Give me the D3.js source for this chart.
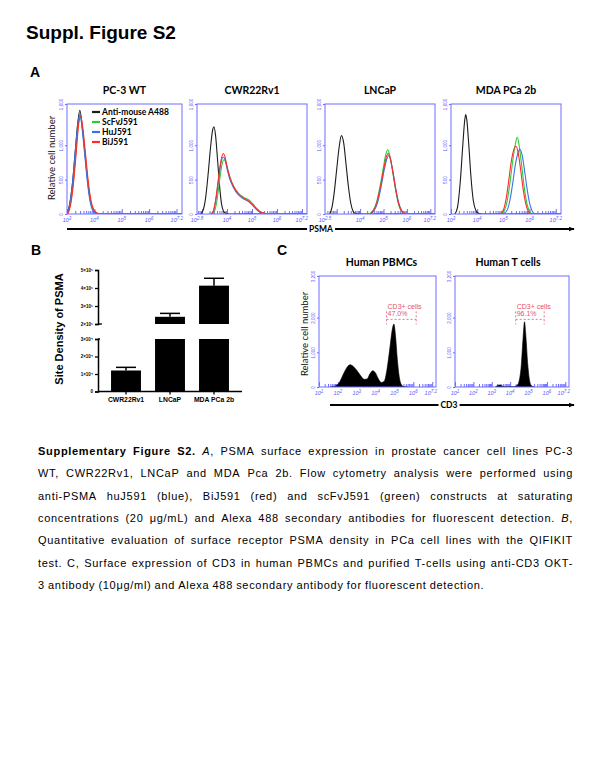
<!DOCTYPE html>
<html>
<head>
<meta charset="utf-8">
<script src="https://cdn.jsdelivr.net/npm/d3@7"></script>
<style>
  body { margin: 0; background: #fff; }
  svg { display: block; }
</style>
</head>
<body>
<div id="chart"></div>
<script>
// ---------------- data ----------------
// Panel A: flow cytometry histograms, [log10 fluorescence, cell count]
var histTitles = ["PC-3 WT", "CWR22Rv1", "LNCaP", "MDA PCa 2b"];
var histXMin = [3, 2.8, 2.5, 3];
var legendLabels = ["Anti-mouse A488", "ScFvJ591", "HuJ591", "BiJ591"];

var pc3Black = [[3.0,0],[3.1,150],[3.2,450],[3.3,900],[3.4,1350],[3.47,1510],[3.55,1300],[3.65,900],[3.75,500],[3.85,200],[3.95,60],[4.05,15],[4.2,0],[7.2,0]];
var pc3Green = [[3.02,0],[3.12,140],[3.22,430],[3.32,880],[3.41,1300],[3.48,1440],[3.56,1260],[3.66,880],[3.76,480],[3.86,190],[3.96,55],[4.06,12],[4.2,0],[7.2,0]];
var pc3Blue = [[3.0,0],[3.1,140],[3.2,440],[3.3,900],[3.4,1320],[3.47,1450],[3.55,1250],[3.65,850],[3.75,450],[3.85,170],[3.95,45],[4.05,10],[4.2,0],[7.2,0]];
var pc3Red = [[3.03,0],[3.13,130],[3.23,420],[3.33,860],[3.42,1280],[3.49,1430],[3.57,1280],[3.67,900],[3.77,500],[3.87,210],[3.97,70],[4.08,20],[4.25,0],[7.2,0]];

var cwrBlack = [[2.95,0],[3.05,60],[3.15,250],[3.25,600],[3.35,1000],[3.43,1230],[3.48,1270],[3.54,1150],[3.62,800],[3.7,420],[3.78,150],[3.86,40],[3.95,10],[4.1,0],[7.2,0]];
var cwrGreen = [[3.4,0],[3.5,40],[3.6,200],[3.7,480],[3.8,720],[3.88,790],[3.95,760],[4.03,650],[4.13,520],[4.28,390],[4.48,290],[4.68,240],[4.88,205],[5.03,150],[5.18,85],[5.33,35],[5.52,10],[5.7,0],[7.2,0]];
var cwrBlue = [[3.35,0],[3.45,40],[3.55,200],[3.65,470],[3.75,730],[3.85,830],[3.92,790],[4.0,660],[4.1,520],[4.25,390],[4.45,280],[4.65,220],[4.85,185],[5.0,135],[5.15,75],[5.3,30],[5.5,8],[5.7,0],[7.2,0]];
var cwrRed = [[3.35,0],[3.45,40],[3.55,210],[3.65,490],[3.75,760],[3.85,880],[3.92,830],[4.0,690],[4.1,550],[4.25,410],[4.45,300],[4.65,235],[4.85,195],[5.0,145],[5.15,85],[5.3,38],[5.5,12],[5.7,0],[7.2,0]];

var lncBlack = [[2.7,0],[2.8,100],[2.9,330],[3.0,650],[3.1,960],[3.2,1140],[3.3,1030],[3.4,720],[3.5,400],[3.6,160],[3.7,40],[3.8,5],[3.95,0],[7.2,0]];
var lncGreen = [[4.4,0],[4.55,50],[4.7,170],[4.85,400],[5.0,690],[5.1,870],[5.18,935],[5.27,850],[5.37,660],[5.5,380],[5.62,170],[5.75,50],[5.9,10],[6.05,0],[7.2,0]];
var lncBlue = [[4.45,0],[4.6,50],[4.75,170],[4.9,400],[5.04,660],[5.14,800],[5.22,850],[5.3,790],[5.4,620],[5.52,370],[5.65,160],[5.78,45],[5.92,8],[6.05,0],[7.2,0]];
var lncRed = [[4.42,0],[4.57,50],[4.72,170],[4.87,400],[5.02,670],[5.12,830],[5.2,880],[5.29,810],[5.39,630],[5.52,370],[5.64,160],[5.77,45],[5.92,8],[6.05,0],[7.2,0]];

var mdaBlack = [[3.15,0],[3.25,100],[3.35,450],[3.45,1000],[3.52,1350],[3.56,1445],[3.6,1380],[3.68,1000],[3.76,550],[3.85,200],[3.95,50],[4.05,10],[4.2,0],[7.2,0]];
var mdaGreen = [[4.9,0],[5.05,60],[5.15,200],[5.25,450],[5.35,750],[5.45,1000],[5.53,1120],[5.6,1000],[5.7,700],[5.8,380],[5.9,150],[6.0,40],[6.1,0],[7.2,0]];
var mdaBlue = [[5.0,0],[5.15,60],[5.25,200],[5.35,430],[5.45,700],[5.55,880],[5.63,940],[5.72,850],[5.82,600],[5.92,330],[6.02,130],[6.12,30],[6.22,0],[7.2,0]];
var mdaRed = [[4.85,0],[5.0,60],[5.1,210],[5.2,470],[5.3,760],[5.4,940],[5.48,985],[5.56,900],[5.66,640],[5.76,350],[5.86,140],[5.96,35],[6.06,0],[7.2,0]];

var histYTicks = [0, 500, 1000, 1600];

// Panel B: QIFIKIT site density
var siteCells = ["CWR22Rv1", "LNCaP", "MDA PCa 2b"];
var siteMean = [12000, 240000, 413000];
var siteErr = [1800, 19000, 41000];
var lowTicks = [0, 10000, 20000, 30000];
var highTicks = [200000, 300000, 400000, 500000];

// Panel C: CD3 histograms
var cd3Titles = ["Human PBMCs", "Human T cells"];
var pbmcCounts = [[1.6,0],[1.9,30],[2.1,150],[2.3,380],[2.5,580],[2.65,640],[2.8,600],[3.0,480],[3.2,330],[3.4,220],[3.55,230],[3.7,380],[3.85,470],[4.0,400],[4.15,230],[4.3,130],[4.45,160],[4.6,500],[4.75,1100],[4.88,1650],[4.97,1813],[5.05,1500],[5.15,800],[5.25,300],[5.35,80],[5.5,10],[5.7,0]];
var tcellCounts = [[3.2,0],[3.35,50],[3.45,60],[3.6,20],[3.8,5],[4.2,10],[4.4,60],[4.5,200],[4.6,600],[4.7,1400],[4.78,1880],[4.85,1500],[4.95,700],[5.05,200],[5.15,40],[5.3,0]];
var cd3Gates = [[4.58, 6.15], [4.3, 5.85]];
var cd3Percent = ["47.0%", "96.1%"];
var cd3YTicks = [0, 1000, 2000, 3200];

// caption
var captionLines = [
  "Supplementary Figure S2. _A_, PSMA surface expression in prostate cancer cell lines PC-3",
  "WT, CWR22Rv1, LNCaP and MDA Pca 2b. Flow cytometry analysis were performed using",
  "anti-PSMA huJ591 (blue), BiJ591 (red) and scFvJ591 (green) constructs at saturating",
  "concentrations (20 \u03bcg/mL) and Alexa 488 secondary antibodies for fluorescent detection. _B_,",
  "Quantitative evaluation of surface receptor PSMA density in PCa cell lines with the QIFIKIT",
  "test. C, Surface expression of CD3 in human PBMCs and purified T-cells using anti-CD3 OKT-",
  "3 antibody (10\u03bcg/ml) and Alexa 488 secondary antibody for fluorescent detection."
];

// ---------------- setup ----------------
var svgWidth = 600;
var svgHeight = 776;
var xMax = 7.2;
var boxColor = "#6e6eff";
var tickTextColor = "#5c5cff";
var colControl = "#1c1c1c", colScfv = "#2bcc35", colHuj = "#4070e8", colBij = "#ff2b2b";
var gateColor = "#e8506e";
var calibri = "Lato, 'Open Sans', sans-serif";
var arial = "'Liberation Sans', Arial, sans-serif";

var svg = d3.select("#chart").append("svg")
  .attr("width", svgWidth).attr("height", svgHeight);

svg.append("defs").append("marker")
  .attr("id", "arrow").attr("viewBox", "0 0 8 6")
  .attr("refX", 7).attr("refY", 3)
  .attr("markerWidth", 6).attr("markerHeight", 5)
  .attr("markerUnits", "userSpaceOnUse")
  .attr("orient", "auto")
  .append("path").attr("d", "M0,0 L8,3 L0,6 Z").attr("fill", "#000");

svg.append("text").attr("x", 26).attr("y", 39)
  .style("font", "bold 19px " + arial).text("Suppl. Figure S2");

[["A", 30, 77], ["B", 31, 255], ["C", 277, 255]].forEach(function(p) {
  svg.append("text").attr("x", p[1]).attr("y", p[2])
    .style("font", "bold 14px " + arial).text(p[0]);
});

// flow histogram with FlowJo-like axes
function histPanel(o) {
  var x = d3.scaleLinear().domain([o.xmin, xMax]).range([o.left, o.left + o.width]);
  var y = d3.scaleLinear().domain([0, o.ymax]).range([o.bottom, o.top]);
  var g = svg.append("g");

  var minor = [], major = [];
  for (var n = Math.floor(o.xmin); n <= 7; n++) {
    for (var k = 1; k < 10; k++) {
      var v = n + Math.log10(k);
      if (v < o.xmin - 1e-9 || v > xMax) continue;
      (k === 1 ? major : minor).push(v);
    }
  }
  var xa = g.append("g").attr("transform", `translate(0,${o.bottom})`)
    .call(d3.axisBottom(x).tickValues(minor).tickSize(-3).tickFormat(""));
  var xb = g.append("g").attr("transform", `translate(0,${o.bottom})`)
    .call(d3.axisBottom(x).tickValues(major).tickSize(-5).tickFormat(""));
  var ya = g.append("g").attr("transform", `translate(${o.left},0)`)
    .call(d3.axisLeft(y).tickValues(o.yticks).tickSize(2).tickFormat(d3.format(",")));
  [xa, xb, ya].forEach(function(a) {
    a.select(".domain").remove();
    a.selectAll("line").attr("stroke", boxColor);
  });
  ya.selectAll("text")
    .attr("transform", "rotate(-90)")
    .attr("x", 0).attr("y", -4).attr("dy", 0)
    .style("text-anchor", "middle")
    .style("font", "4.5px " + arial).attr("fill", tickTextColor);

  // decade labels 10^n: first value, whole decades, last value
  var labs = [o.xmin].concat(major.filter(d => d - o.xmin > 0.6 && d < 7));
  labs.push(xMax);
  var lt = g.selectAll(".xl").data(labs).enter().append("text")
    .attr("x", d => d === xMax ? x(d) + 1 : x(d)).attr("y", o.bottom + 8)
    .attr("text-anchor", d => d === xMax ? "end" : "middle")
    .style("font", "italic 5.5px " + arial).attr("fill", tickTextColor);
  lt.append("tspan").text("10");
  lt.append("tspan").attr("dy", -2).style("font-size", "4.5px")
    .text(d => Number.isInteger(d) ? d : d.toFixed(1));

  var clipId = "clip" + Math.round(o.left);
  svg.select("defs").append("clipPath").attr("id", clipId)
    .append("rect").attr("x", o.left).attr("y", o.top - 2)
    .attr("width", o.width).attr("height", o.bottom - o.top + 2);

  var line = d3.line().x(d => x(d[0])).y(d => y(d[1])).curve(d3.curveMonotoneX);
  var area = d3.area().x(d => x(d[0])).y0(y(0)).y1(d => y(d[1])).curve(d3.curveMonotoneX);
  var cg = g.append("g").attr("clip-path", `url(#${clipId})`);
  o.series.forEach(function(s) {
    if (s.fill) {
      cg.append("path").attr("d", area(s.data)).attr("fill", s.color).attr("stroke", s.color).attr("stroke-width", 0.6);
    } else {
      cg.append("path").attr("d", line(s.data)).attr("fill", "none")
        .attr("stroke", s.color).attr("stroke-width", 1.1);
    }
  });

  g.append("rect").attr("x", o.left).attr("y", o.top)
    .attr("width", o.width).attr("height", o.bottom - o.top)
    .attr("fill", "none").attr("stroke", boxColor).attr("stroke-width", 1);

  g.append("text").attr("x", o.left + o.width / 2 + (o.titleShift || 0)).attr("y", o.top - 10)
    .attr("text-anchor", "middle")
    .style("font", "bold 10.5px " + calibri).text(o.title);

  return {x: x, y: y, g: g};
}

// ---------------- panel A ----------------
var histLeft = [67, 197, 325, 451];
var histWidth = [115, 110, 110, 110];
var histSeries = [
  [pc3Black, pc3Green, pc3Blue, pc3Red],
  [cwrBlack, cwrGreen, cwrBlue, cwrRed],
  [lncBlack, lncGreen, lncBlue, lncRed],
  [mdaBlack, mdaGreen, mdaBlue, mdaRed]
];
var seriesColors = [colControl, colScfv, colHuj, colBij];

histTitles.forEach(function(t, i) {
  histPanel({
    left: histLeft[i], width: histWidth[i], top: 104, bottom: 214,
    xmin: histXMin[i], ymax: 1600, yticks: histYTicks, title: t,
    series: histSeries[i].map((d, j) => ({data: d, color: seriesColors[j]}))
  });
});

// legend
var legend = svg.append("g").attr("transform", "translate(92,112)");
legendLabels.forEach(function(l, i) {
  var row = legend.append("g").attr("transform", `translate(0,${i * 10})`);
  row.append("line").attr("x1", 0).attr("x2", 8).attr("y1", 0).attr("y2", 0)
    .attr("stroke", seriesColors[i]).attr("stroke-width", 2.2);
  row.append("text").attr("x", 10).attr("y", 3)
    .style("font", "bold 8.5px " + calibri).text(l);
});

svg.append("text").attr("transform", "translate(55,158) rotate(-90)")
  .attr("text-anchor", "middle").style("font", "9.5px " + calibri).attr("fill", "#111").text("Relative cell number");

function axisArrow(x1, x2, yy, label, cx) {
  svg.append("line").attr("x1", x1).attr("x2", x2).attr("y1", yy).attr("y2", yy)
    .attr("stroke", "#000").attr("stroke-width", 1.8).attr("marker-end", "url(#arrow)");
  var t = svg.append("text").attr("x", cx).attr("y", yy + 3)
    .attr("text-anchor", "middle").style("font", "bold 8.5px " + calibri).text(label);
  var bb = t.node().getBBox();
  svg.insert("rect", function() { return t.node(); })
    .attr("x", bb.x - 2).attr("y", yy - 3).attr("width", bb.width + 4).attr("height", 6)
    .attr("fill", "#fff");
}
axisArrow(67, 574, 229, "PSMA", 321);

// ---------------- panel B ----------------
var bLeft = 98;
var xB = d3.scaleBand().domain(siteCells).range([104, 236]).paddingInner(0.32).paddingOuter(0.16);
var yLow = d3.scaleLinear().domain([0, 30000]).range([391.5, 339]);
var yHigh = d3.scaleLinear().domain([200000, 500000]).range([324, 270]);

var bg = svg.append("g");
bg.selectAll(".barLow").data(siteMean).enter().append("rect")
  .attr("x", (d, i) => xB(siteCells[i])).attr("width", xB.bandwidth())
  .attr("y", d => yLow(Math.min(d, 30000)))
  .attr("height", d => yLow(0) - yLow(Math.min(d, 30000)))
  .attr("fill", "#000");
bg.selectAll(".barHigh").data(siteMean.filter(d => d > 200000)).enter().append("rect")
  .attr("x", d => xB(siteCells[siteMean.indexOf(d)])).attr("width", xB.bandwidth())
  .attr("y", d => yHigh(d))
  .attr("height", d => yHigh(200000) - yHigh(d))
  .attr("fill", "#000");
siteMean.forEach(function(m, i) {
  var ys = m > 200000 ? yHigh : yLow;
  var cx = xB(siteCells[i]) + xB.bandwidth() / 2;
  bg.append("line").attr("x1", cx).attr("x2", cx).attr("y1", ys(m)).attr("y2", ys(m + siteErr[i]))
    .attr("stroke", "#000").attr("stroke-width", 1.5);
  bg.append("line").attr("x1", cx - 10).attr("x2", cx + 10).attr("y1", ys(m + siteErr[i])).attr("y2", ys(m + siteErr[i]))
    .attr("stroke", "#000").attr("stroke-width", 1.5);
});

var supDigits = {"4": "\u2074", "5": "\u2075"};
var aLow = bg.append("g").attr("transform", `translate(${bLeft},0)`)
  .call(d3.axisLeft(yLow).tickValues(lowTicks).tickSize(3).tickPadding(2)
    .tickFormat(d => d === 0 ? "0" : (d / 10000) + "\u00d710" + supDigits["4"]));
var aHigh = bg.append("g").attr("transform", `translate(${bLeft},0)`)
  .call(d3.axisLeft(yHigh).tickValues(highTicks).tickSize(3).tickPadding(2)
    .tickFormat(d => (d / 100000) + "\u00d710" + supDigits["5"]));
[aLow, aHigh].forEach(function(a) {
  a.select(".domain").attr("stroke", "#000").attr("stroke-width", 1.5);
  a.selectAll("line").attr("stroke", "#000").attr("stroke-width", 1.3);
  a.selectAll("text").style("font", "bold 4.5px " + arial);
});
// break marks
bg.append("line").attr("x1", bLeft).attr("x2", bLeft + 4).attr("y1", yHigh(200000)).attr("y2", yHigh(200000))
  .attr("stroke", "#000").attr("stroke-width", 1.3);
bg.append("line").attr("x1", bLeft).attr("x2", bLeft + 2).attr("y1", yLow(30000)).attr("y2", yLow(30000))
  .attr("stroke", "#000").attr("stroke-width", 1.3);

var xAxisB = bg.append("g").attr("transform", `translate(0,${yLow(0)})`)
  .call(d3.axisBottom(xB).tickSize(3).tickPadding(3));
xAxisB.select(".domain").attr("d", `M${bLeft},0H242`).attr("stroke", "#000").attr("stroke-width", 1.5);
xAxisB.selectAll("line").attr("stroke", "#000").attr("stroke-width", 1.3);
xAxisB.selectAll("text").style("font", "bold 6.8px " + arial);

svg.append("text").attr("transform", "translate(63,329) rotate(-90)")
  .attr("text-anchor", "middle").style("font", "bold 11px " + arial).text("Site Density of PSMA");

// ---------------- panel C ----------------
var cdLeft = [319, 455];
var cdWidth = [117, 114];
var cdData = [pbmcCounts, tcellCounts];
cd3Titles.forEach(function(t, i) {
  var p = histPanel({
    left: cdLeft[i], width: cdWidth[i], top: 276, bottom: 387,
    xmin: 1, ymax: 3200, yticks: cd3YTicks, title: t, titleShift: i === 1 ? -4 : 4,
    series: [{data: cdData[i], color: "#000", fill: true}]
  });
  var gx0 = p.x(cd3Gates[i][0]), gx1 = p.x(cd3Gates[i][1]);
  var gy = p.y(1950);
  p.g.append("text").attr("x", gx0 + 1).attr("y", gy - 10)
    .style("font", "7px " + arial).attr("fill", gateColor).text("CD3+ cells");
  p.g.append("text").attr("x", gx0 + 1).attr("y", gy - 3)
    .style("font", "7px " + arial).attr("fill", gateColor).text(cd3Percent[i]);
  p.g.append("line").attr("x1", gx0).attr("x2", gx1).attr("y1", gy).attr("y2", gy)
    .attr("stroke", gateColor).attr("stroke-width", 0.8).attr("stroke-dasharray", "2,2");
  [gx0, gx1].forEach(function(gx) {
    p.g.append("line").attr("x1", gx).attr("x2", gx).attr("y1", gy - 8).attr("y2", gy + 5)
      .attr("stroke", gateColor).attr("stroke-width", 0.8).attr("stroke-dasharray", "2,2");
  });
});

svg.append("text").attr("transform", "translate(308,334) rotate(-90)")
  .attr("text-anchor", "middle").style("font", "9.5px " + calibri).attr("fill", "#111").text("Relative cell number");
axisArrow(330, 574, 405, "CD3", 449);

// ---------------- caption ----------------
var capLeft = 38, capRight = 573, capTop = 455, capStep = 22.35;
captionLines.forEach(function(line, li) {
  var words = line.split(" ");
  var nodes = words.map(function(w, wi) {
    var t = svg.append("text").attr("y", capTop + li * capStep)
      .style("font-family", arial).style("font-size", "11px")
      .style("letter-spacing", "0.7px");
    var bold = li === 0 && wi < 3;
    w.split(/(_[^_]+_)/).filter(s => s.length).forEach(function(part) {
      var it = part[0] === "_";
      t.append("tspan").text(it ? part.slice(1, -1) : part)
        .style("font-style", it ? "italic" : "normal")
        .style("font-weight", bold ? "bold" : "normal");
    });
    return t;
  });
  var widths = nodes.map(n => n.node().getComputedTextLength());
  var total = d3.sum(widths);
  var gap = li < captionLines.length - 1 ? (capRight - capLeft - total) / (words.length - 1) : 3.2;
  var cx = capLeft;
  nodes.forEach(function(n, i) {
    n.attr("x", cx);
    cx += widths[i] + gap;
  });
});
</script>
</body>
</html>
